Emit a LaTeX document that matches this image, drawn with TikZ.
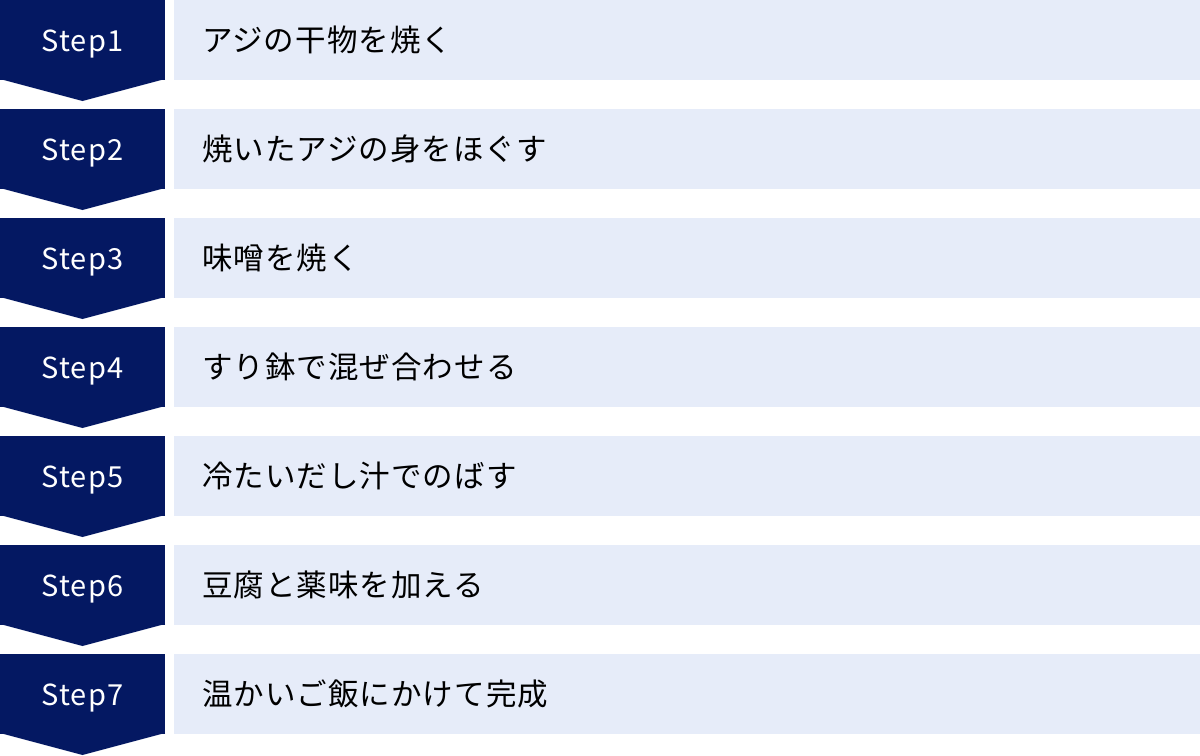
\documentclass[tikz,border=0pt]{standalone}
\usepackage{fontspec}
\setmainfont{Noto Sans CJK JP}
\usetikzlibrary{positioning}
\definecolor{stepnavy}{HTML}{041862}
\definecolor{rowblue}{HTML}{E6ECF9}
\begin{document}
\begin{tikzpicture} [
   node distance=29bp and 9bp, outer sep=0bp,
   s/.style={fill=stepnavy, text=white, minimum width=165bp, minimum height=80bp,
      inner sep=0bp, text height=22bp, text depth=0bp,
      font=\fontsize{29bp}{34bp}\selectfont\addfontfeature{LetterSpace=4}},
   t/.style={fill=rowblue, minimum height=80bp, text width=970bp, inner xsep=28bp,
      inner ysep=0bp, align=left, font=\fontsize{30.5bp}{36bp}\selectfont\addfontfeature{LetterSpace=3.5}}
]
   \useasboundingbox (0bp,0bp) rectangle (1200bp,-756bp);
   \node (s1) [s, anchor=north west] at (0bp,0bp) {Step1};
   \node (s2) [s, below=of s1] {Step2};
   \node (s3) [s, below=of s2] {Step3};
   \node (s4) [s, below=of s3] {Step4};
   \node (s5) [s, below=of s4] {Step5};
   \node (s6) [s, below=of s5] {Step6};
   \node (s7) [s, below=of s6] {Step7};
   \node (t1) [t, right=of s1] {アジの干物を焼く};
   \node (t2) [t, right=of s2] {焼いたアジの身をほぐす};
   \node (t3) [t, right=of s3] {味噌を焼く};
   \node (t4) [t, right=of s4] {すり鉢で混ぜ合わせる};
   \node (t5) [t, right=of s5] {冷たいだし汁でのばす};
   \node (t6) [t, right=of s6] {豆腐と薬味を加える};
   \node (t7) [t, right=of s7] {温かいご飯にかけて完成};
   \fill [stepnavy] ([yshift=1bp]s1.south west) -- ([yshift=1bp]s1.south east) -- ([yshift=-21bp]s1.south) -- cycle
                    ([yshift=1bp]s2.south west) -- ([yshift=1bp]s2.south east) -- ([yshift=-21bp]s2.south) -- cycle
                    ([yshift=1bp]s3.south west) -- ([yshift=1bp]s3.south east) -- ([yshift=-21bp]s3.south) -- cycle
                    ([yshift=1bp]s4.south west) -- ([yshift=1bp]s4.south east) -- ([yshift=-21bp]s4.south) -- cycle
                    ([yshift=1bp]s5.south west) -- ([yshift=1bp]s5.south east) -- ([yshift=-21bp]s5.south) -- cycle
                    ([yshift=1bp]s6.south west) -- ([yshift=1bp]s6.south east) -- ([yshift=-21bp]s6.south) -- cycle
                    ([yshift=1bp]s7.south west) -- ([yshift=1bp]s7.south east) -- ([yshift=-21bp]s7.south) -- cycle;
\end{tikzpicture}
\end{document}
